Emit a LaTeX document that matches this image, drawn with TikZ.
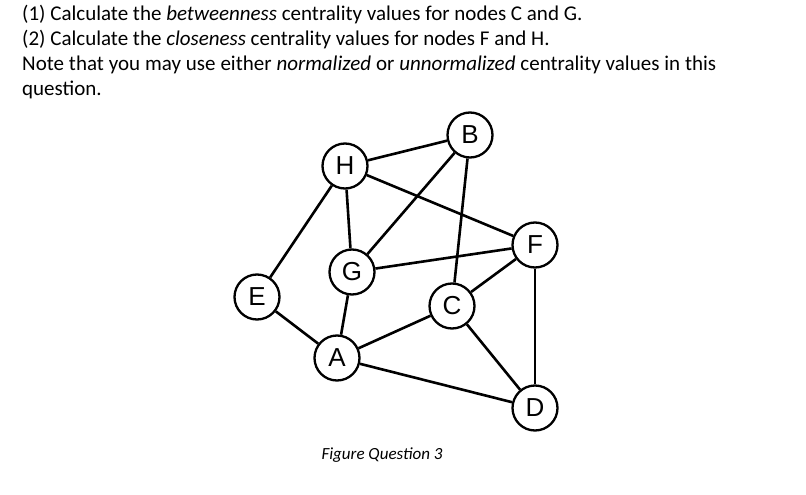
\documentclass[tikz,border=0pt]{standalone}
\usepackage{fontspec}
\setmainfont{Carlito}
\newfontfamily\arialf{Liberation Sans}
\begin{document}
\begin{tikzpicture}[x=1pt,y=-1pt,
  vert/.style={circle,draw,line width=2.3pt,fill=white,minimum size=45pt,inner sep=0pt,font=\arialf\fontsize{26}{26}\selectfont},
  edge/.style={line width=2.6pt},
  txt/.style={anchor=west,inner sep=0pt,font=\fontsize{21}{21}\selectfont}]
\useasboundingbox (0,0) rectangle (806,495);
\node[txt] (t1) at (22,15) {(1) Calculate the \textit{betweenness} centrality values for nodes C and G.};
\node[txt] (t2) at (22,40) {(2) Calculate the \textit{closeness} centrality values for nodes F and H.};
\node[txt] (t3) at (22,65) {\makebox[694pt][s]{Note that you may use either \textit{normalized} or \textit{unnormalized} centrality values in this}};
\node[txt] (t4) at (22,90) {question.};
\node[font=\itshape\fontsize{17}{17}\selectfont] (cap) at (382,455) {Figure Question 3};
\node[vert] (B) at (470,135) {B};
\node[vert] (H) at (345,166) {H};
\node[vert] (F) at (535,245) {F};
\node[vert] (G) at (352,272) {G};
\node[vert] (E) at (257,297) {E};
\node[vert] (C) at (452,306) {C};
\node[vert] (A) at (337,358) {A};
\node[vert] (D) at (535,408) {D};
\foreach \a/\b in {H/B,H/E,H/G,H/F,B/G,B/C,G/F,C/F,E/A,A/G,A/C,A/D,C/D,F/D}
  \draw[edge] (\a) -- (\b);
\end{tikzpicture}
\end{document}
